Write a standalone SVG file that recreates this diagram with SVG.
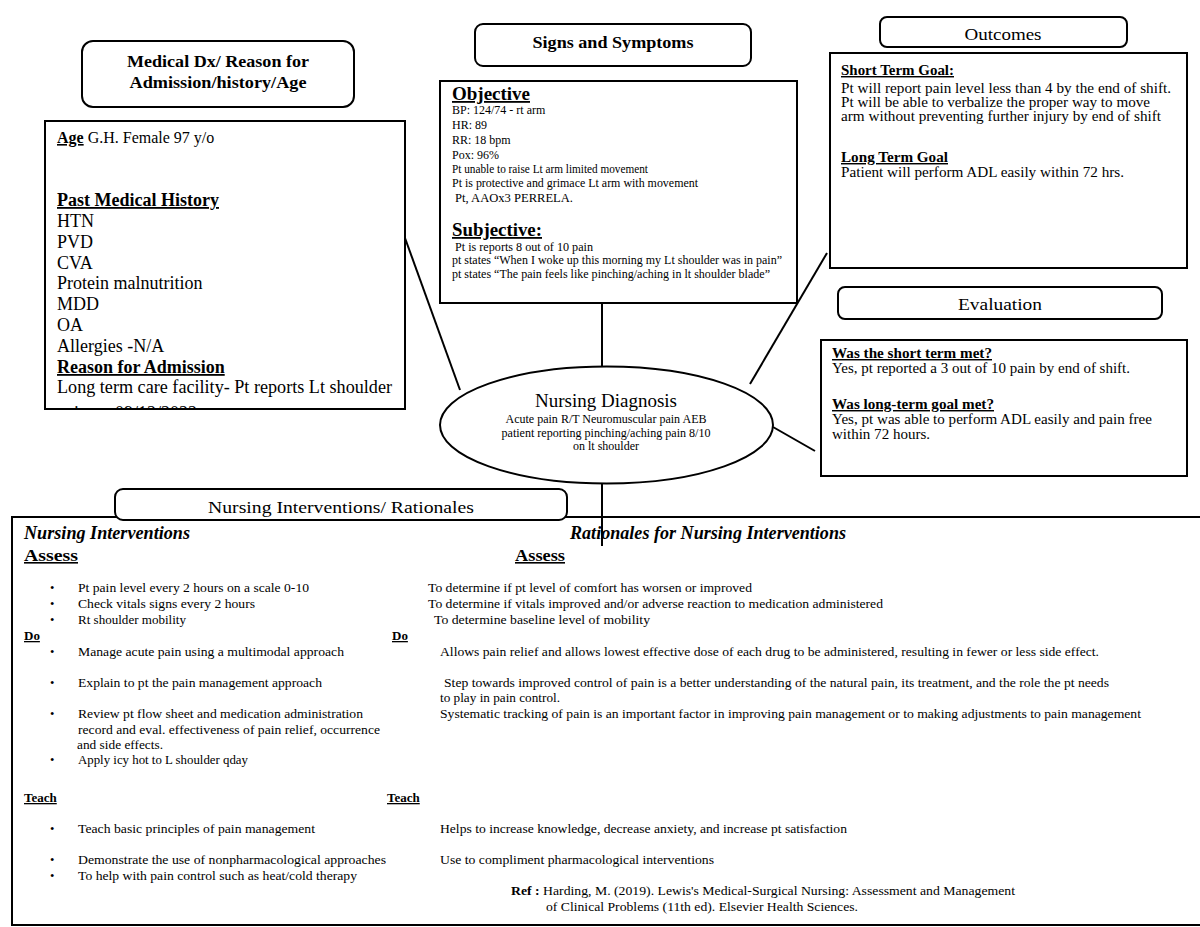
<svg xmlns="http://www.w3.org/2000/svg" width="1200" height="927" viewBox="0 0 1200 927">
<defs>
<style>
text{font-family:"Liberation Serif","Times New Roman",serif;fill:#000}
.box{fill:#fff;stroke:#000;stroke-width:2}
.conn{stroke:#000;stroke-width:2;fill:none}
.title{font-size:16px;text-anchor:middle}
.b{font-weight:bold}
.u{text-decoration:underline}
.bi{font-weight:bold;font-style:italic;font-size:18px}
.s12{font-size:12px}
.sb{font-size:12.5px}
.s15{font-size:14.5px}
.s18{font-size:18px}
</style>
<clipPath id="clipLeft"><rect x="46" y="122" width="358" height="286"/></clipPath>
</defs>
<rect width="1200" height="927" fill="#fff"/>

<g id="node-interventions">
<rect class="box" x="12" y="517" width="1195" height="408"/>
<text class="bi" x="24" y="539" textLength="166" lengthAdjust="spacingAndGlyphs">Nursing Interventions</text>
<text class="bi" x="570" y="539" textLength="276" lengthAdjust="spacingAndGlyphs">Rationales for Nursing Interventions</text>
<text class="b u" x="24" y="561" font-size="16" textLength="54" lengthAdjust="spacingAndGlyphs">Assess </text>
<text class="b u" x="515" y="561" font-size="16" textLength="50" lengthAdjust="spacingAndGlyphs">Assess</text>
<g class="sb">
<text x="50" y="592">•</text><text x="78" y="592" textLength="231" lengthAdjust="spacingAndGlyphs">Pt pain level every 2 hours on a scale 0-10</text>
<text x="50" y="608">•</text><text x="78" y="608" textLength="177" lengthAdjust="spacingAndGlyphs">Check vitals signs every 2 hours</text>
<text x="50" y="624">•</text><text x="78" y="624" textLength="108" lengthAdjust="spacingAndGlyphs">Rt shoulder mobility</text>
<text x="428" y="592" textLength="324" lengthAdjust="spacingAndGlyphs">To determine if pt level of comfort has worsen or improved</text>
<text x="428" y="608" textLength="455" lengthAdjust="spacingAndGlyphs">To determine if vitals improved and/or adverse reaction to medication administered</text>
<text x="434" y="624" textLength="216" lengthAdjust="spacingAndGlyphs">To determine baseline level of mobility</text>
<text class="b u" x="24" y="640" font-size="13">Do </text>
<text class="b u" x="392" y="640" font-size="13">Do</text>
<text x="50" y="656">•</text><text x="78" y="656" textLength="266" lengthAdjust="spacingAndGlyphs">Manage acute pain using a multimodal approach</text>
<text x="440" y="656" textLength="659" lengthAdjust="spacingAndGlyphs">Allows pain relief and allows lowest effective dose of each drug to be administered, resulting in fewer or less side effect.</text>
<text x="50" y="687">•</text><text x="78" y="687" textLength="244" lengthAdjust="spacingAndGlyphs">Explain to pt the pain management approach</text>
<text x="444" y="687" textLength="665" lengthAdjust="spacingAndGlyphs">Step towards improved control of pain is a better understanding of the natural pain, its treatment,  and the role the pt needs</text>
<text x="440" y="702" textLength="120" lengthAdjust="spacingAndGlyphs">to play in pain control.</text>
<text x="50" y="718">•</text><text x="78" y="718" textLength="285" lengthAdjust="spacingAndGlyphs">Review pt flow sheet and medication administration</text>
<text x="78" y="734" textLength="302" lengthAdjust="spacingAndGlyphs">record and eval. effectiveness of pain relief, occurrence</text>
<text x="77" y="749" textLength="86" lengthAdjust="spacingAndGlyphs">and side effects.</text>
<text x="440" y="718" textLength="701" lengthAdjust="spacingAndGlyphs">Systematic tracking of pain is an important factor in improving pain management or to making adjustments to pain management</text>
<text x="50" y="764">•</text><text x="78" y="764" textLength="170" lengthAdjust="spacingAndGlyphs">Apply icy hot to L shoulder qday</text>
<text class="b u" x="24" y="802" font-size="13">Teach</text>
<text class="b u" x="387" y="802" font-size="13">Teach</text>
<text x="50" y="833">•</text><text x="78" y="833" textLength="237" lengthAdjust="spacingAndGlyphs">Teach basic principles of pain management</text>
<text x="440" y="833" textLength="407" lengthAdjust="spacingAndGlyphs">Helps to increase knowledge, decrease anxiety, and increase pt satisfaction</text>
<text x="50" y="864">•</text><text x="78" y="864" textLength="308" lengthAdjust="spacingAndGlyphs">Demonstrate the use of nonpharmacological approaches</text>
<text x="440" y="864" textLength="274" lengthAdjust="spacingAndGlyphs">Use to compliment pharmacological interventions</text>
<text x="50" y="880">•</text><text x="78" y="880" textLength="279" lengthAdjust="spacingAndGlyphs">To help with pain control such as heat/cold therapy</text>
<text x="511" y="895" textLength="504" lengthAdjust="spacingAndGlyphs"><tspan class="b">Ref :</tspan> Harding, M. (2019). Lewis's Medical-Surgical Nursing: Assessment and Management</text>
<text x="546" y="911" textLength="312" lengthAdjust="spacingAndGlyphs">of Clinical Problems (11th ed). Elsevier Health Sciences.</text>
</g>
</g>

<g id="node-interventions-title">
<rect class="box" x="115" y="489" width="452" height="31" rx="8"/>
<text x="341" y="513" font-size="16.5" text-anchor="middle" textLength="266" lengthAdjust="spacingAndGlyphs">Nursing Interventions/ Rationales</text>
</g>

<g id="connectors">
<line class="conn" x1="405" y1="238" x2="460" y2="390"/>
<line class="conn" x1="602" y1="303" x2="602" y2="366"/>
<line class="conn" x1="827" y1="253" x2="750" y2="384"/>
<line class="conn" x1="773" y1="427" x2="815" y2="451"/>
<line class="conn" x1="602" y1="466" x2="602" y2="546"/>
</g>

<g id="node-medical-dx-title">
<rect class="box" x="82" y="41" width="272" height="66" rx="11"/>
<text class="b" x="218" y="67" font-size="17" text-anchor="middle" textLength="182" lengthAdjust="spacingAndGlyphs">Medical Dx/ Reason for</text>
<text class="b" x="218" y="88" font-size="17" text-anchor="middle" textLength="177" lengthAdjust="spacingAndGlyphs">Admission/history/Age</text>
</g>

<g id="node-medical-dx">
<rect class="box" x="45" y="121" width="360" height="288"/>
<text x="57" y="143" font-size="16"><tspan class="b u">Age</tspan> G.H. Female 97 y/o</text>
<g class="s18">
<text class="b u" x="57" y="206">Past Medical History</text>
<text x="57" y="227">HTN</text>
<text x="57" y="248">PVD</text>
<text x="57" y="269">CVA</text>
<text x="57" y="289">Protein malnutrition</text>
<text x="57" y="310">MDD</text>
<text x="57" y="331">OA</text>
<text x="57" y="352">Allergies -N/A</text>
<text class="b u" x="57" y="373">Reason for Admission</text>
<text x="57" y="393" textLength="335" lengthAdjust="spacingAndGlyphs">Long term care facility- Pt reports Lt shoulder</text>
<text x="57" y="419" clip-path="url(#clipLeft)">pain  on 09/12/2022</text>
</g>
</g>

<g id="node-signs-title">
<rect class="box" x="475" y="24" width="276" height="42" rx="8"/>
<text class="b" x="613" y="48" font-size="16.5" text-anchor="middle" textLength="161" lengthAdjust="spacingAndGlyphs">Signs and Symptoms</text>
</g>

<g id="node-signs">
<rect class="box" x="440" y="81" width="357" height="222"/>
<text class="b u" x="452" y="100" font-size="18" textLength="78" lengthAdjust="spacingAndGlyphs">Objective </text>
<g class="s12">
<text x="452" y="114">BP: 124/74 - rt arm</text>
<text x="452" y="129">HR: 89</text>
<text x="452" y="144">RR: 18 bpm</text>
<text x="452" y="159">Pox: 96%</text>
<text x="452" y="173" textLength="196" lengthAdjust="spacingAndGlyphs">Pt unable to raise Lt arm limited movement</text>
<text x="452" y="187" textLength="246" lengthAdjust="spacingAndGlyphs">Pt is protective and grimace Lt arm with movement</text>
<text x="455" y="202" font-size="13" textLength="118" lengthAdjust="spacingAndGlyphs">Pt, AAOx3 PERRELA.</text>
<text class="b u" x="452" y="236" font-size="18" textLength="90" lengthAdjust="spacingAndGlyphs">Subjective:</text>
<text x="455" y="251" textLength="138" lengthAdjust="spacingAndGlyphs">Pt is reports 8 out of 10 pain</text>
<text x="452" y="264" textLength="330" lengthAdjust="spacingAndGlyphs">pt states “When I woke up this morning my Lt shoulder was in pain”</text>
<text x="452" y="278" textLength="318" lengthAdjust="spacingAndGlyphs">pt states “The pain feels like pinching/aching in lt shoulder blade”</text>
</g>
</g>

<g id="node-outcomes-title">
<rect class="box" x="880" y="17" width="247" height="30" rx="7"/>
<text class="title" x="1003" y="40" textLength="77" lengthAdjust="spacingAndGlyphs">Outcomes</text>
</g>

<g id="node-outcomes">
<rect class="box" x="830" y="53" width="357" height="215"/>
<g class="s15">
<text class="b u" x="841" y="75" textLength="113" lengthAdjust="spacingAndGlyphs">Short Term Goal:</text>
<text x="841" y="93" textLength="330" lengthAdjust="spacingAndGlyphs">Pt will report pain level less than 4 by the end of shift.</text>
<text x="841" y="107" textLength="309" lengthAdjust="spacingAndGlyphs">Pt will be able to verbalize the proper way to move</text>
<text x="841" y="121" textLength="320" lengthAdjust="spacingAndGlyphs">arm without preventing further injury by end of shift</text>
<text class="b u" x="841" y="162" textLength="107" lengthAdjust="spacingAndGlyphs">Long Term Goal</text>
<text x="841" y="177" textLength="283" lengthAdjust="spacingAndGlyphs">Patient will perform ADL easily within 72 hrs.</text>
</g>
</g>

<g id="node-evaluation-title">
<rect class="box" x="838" y="287" width="324" height="32" rx="7"/>
<text class="title" x="1000" y="310" textLength="84" lengthAdjust="spacingAndGlyphs">Evaluation</text>
</g>

<g id="node-evaluation">
<rect class="box" x="821" y="340" width="366" height="136"/>
<g class="s15">
<text class="b u" x="832" y="358" textLength="160" lengthAdjust="spacingAndGlyphs">Was the short term met?</text>
<text x="832" y="373" textLength="298" lengthAdjust="spacingAndGlyphs">Yes, pt reported a 3 out of 10 pain by end of shift.</text>
<text class="b u" x="832" y="409" textLength="162" lengthAdjust="spacingAndGlyphs">Was long-term goal met?</text>
<text x="832" y="424" textLength="320" lengthAdjust="spacingAndGlyphs">Yes, pt was able to perform ADL easily and pain free</text>
<text x="832" y="439" textLength="98" lengthAdjust="spacingAndGlyphs">within 72 hours.</text>
</g>
</g>

<g id="node-diagnosis">
<ellipse class="box" cx="606.5" cy="425" rx="166.5" ry="58.5"/>
<text x="606" y="407" font-size="18" text-anchor="middle" textLength="142" lengthAdjust="spacingAndGlyphs">Nursing Diagnosis</text>
<text class="s12" x="606" y="423" text-anchor="middle" textLength="201" lengthAdjust="spacingAndGlyphs">Acute pain R/T Neuromuscular pain AEB</text>
<text class="s12" x="606" y="437" text-anchor="middle" textLength="209" lengthAdjust="spacingAndGlyphs">patient reporting pinching/aching pain 8/10</text>
<text class="s12" x="606" y="450" text-anchor="middle" textLength="66" lengthAdjust="spacingAndGlyphs">on lt shoulder</text>
</g>
</svg>
